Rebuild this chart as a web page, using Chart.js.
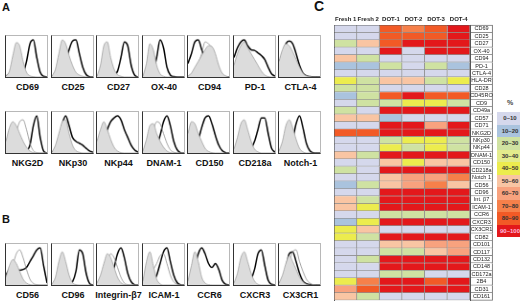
<!DOCTYPE html>
<html>
<head>
<meta charset="utf-8">
<script src="https://cdn.jsdelivr.net/npm/chart.js@4.4.1/dist/chart.umd.min.js"></script>
<style>
body { margin: 0; background: #fff; }
#fig { position: relative; width: 520px; height: 305px; overflow: hidden; font-family: "Liberation Sans", Arial, sans-serif; }
.box { position: absolute; }
.box canvas { border: 1px solid #b8b8b8; border-left-color: #333; border-bottom-color: #333; }
.lbl { position: absolute; width: 60px; font-weight: bold; font-size: 9px; text-align: center; color: #111; }
.letter { position: absolute; font-weight: bold; font-size: 11px; color: #111; }
.leg { position: absolute; left: 497px; width: 26px; height: 12.5px; line-height: 12.5px; font-size: 6px; font-weight: bold; text-align: center; color: #333; }
</style>
</head>
<body>
<div id="fig"></div>
<script>
// histogram panels (A and B)
var histLabels = ['CD69', 'CD25', 'CD27', 'OX-40', 'CD94', 'PD-1', 'CTLA-4',
  'NKG2D', 'NKp30', 'NKp44', 'DNAM-1', 'CD150', 'CD218a', 'Notch-1',
  'CD56', 'CD96', 'Integrin-β7', 'ICAM-1', 'CCR6', 'CXCR3', 'CX3CR1'];
var bins = ['0', '1', '2', '3', '4', '5', '6', '7', '8', '9', '10', '11', '12'];

// grey filled control histogram
var isoCurves = [
  [0.02, 0.15, 0.55, 0.88, 0.8, 0.4, 0.12, 0.03, 0.01, 0, 0, 0, 0],
  [0.02, 0.2, 0.6, 0.95, 0.85, 0.55, 0.3, 0.12, 0.05, 0.02, 0, 0, 0],
  [0.02, 0.3, 0.8, 0.9, 0.5, 0.2, 0.06, 0.02, 0, 0, 0, 0, 0],
  [0.02, 0.35, 0.85, 0.7, 0.3, 0.08, 0.02, 0, 0, 0, 0, 0, 0],
  [0.02, 0.1, 0.25, 0.4, 0.55, 0.7, 0.8, 0.78, 0.6, 0.3, 0.1, 0.03, 0],
  [0.3, 0.6, 0.8, 0.9, 0.75, 0.6, 0.45, 0.3, 0.15, 0.05, 0.01, 0, 0],
  [0.4, 0.7, 0.85, 0.8, 0.65, 0.45, 0.25, 0.1, 0.03, 0.01, 0, 0, 0],
  [0.3, 0.65, 0.8, 0.7, 0.5, 0.3, 0.15, 0.05, 0.01, 0, 0, 0, 0],
  [0.02, 0.2, 0.5, 0.8, 0.85, 0.5, 0.2, 0.06, 0.02, 0, 0, 0, 0],
  [0.3, 0.6, 0.8, 0.6, 0.35, 0.15, 0.05, 0.01, 0, 0, 0, 0, 0],
  [0.05, 0.35, 0.7, 0.75, 0.5, 0.3, 0.15, 0.05, 0.01, 0, 0, 0, 0],
  [0.5, 0.8, 0.75, 0.5, 0.3, 0.12, 0.04, 0.01, 0, 0, 0, 0, 0],
  [0.1, 0.4, 0.75, 0.85, 0.6, 0.3, 0.1, 0.03, 0, 0, 0, 0, 0],
  [0.05, 0.3, 0.7, 0.85, 0.65, 0.35, 0.12, 0.03, 0, 0, 0, 0, 0],
  [0.2, 0.5, 0.65, 0.55, 0.35, 0.15, 0.05, 0.01, 0, 0, 0, 0, 0],
  [0.02, 0.2, 0.6, 0.85, 0.6, 0.25, 0.06, 0.01, 0, 0, 0, 0, 0],
  [0.05, 0.25, 0.55, 0.8, 0.7, 0.45, 0.2, 0.06, 0.01, 0, 0, 0, 0],
  [0.1, 0.6, 0.85, 0.5, 0.15, 0.03, 0, 0, 0, 0, 0, 0, 0],
  [0.1, 0.5, 0.85, 0.6, 0.2, 0.05, 0.01, 0, 0, 0, 0, 0, 0],
  [0.05, 0.3, 0.7, 0.85, 0.6, 0.3, 0.1, 0.02, 0, 0, 0, 0, 0],
  [0.05, 0.25, 0.55, 0.75, 0.6, 0.4, 0.2, 0.08, 0.02, 0, 0, 0, 0]
];

// thin grey line (fresh cells), only where it differs from the control
var freshCurves = [
  null, null, null, null,
  [0.02, 0.08, 0.2, 0.35, 0.6, 0.9, 0.85, 0.75, 0.5, 0.25, 0.08, 0.02, 0],
  null, null,
  [0.02, 0.1, 0.3, 0.55, 0.8, 0.85, 0.6, 0.25, 0.06, 0.01, 0, 0, 0],
  null, null,
  [0.02, 0.15, 0.4, 0.6, 0.8, 0.75, 0.5, 0.25, 0.08, 0.02, 0, 0, 0],
  null, null, null,
  [0.05, 0.2, 0.5, 0.8, 0.9, 0.7, 0.4, 0.15, 0.04, 0.01, 0, 0, 0],
  null,
  [0.02, 0.15, 0.35, 0.6, 0.8, 0.7, 0.45, 0.2, 0.05, 0.01, 0, 0, 0],
  [0.02, 0.1, 0.25, 0.4, 0.55, 0.75, 0.8, 0.55, 0.25, 0.08, 0.02, 0, 0],
  null, null,
  [0.02, 0.1, 0.3, 0.6, 0.85, 0.9, 0.6, 0.35, 0.15, 0.05, 0.01, 0, 0]
];

// black line (DOT cells)
var dotCurves = [
  [0.02, 0.08, 0.14, 0.16, 0.1, 0.12, 0.4, 0.85, 0.95, 0.5, 0.12, 0.02, 0],
  [0.01, 0.03, 0.08, 0.2, 0.4, 0.7, 0.92, 0.95, 0.6, 0.25, 0.06, 0.01, 0],
  [0.01, 0.05, 0.1, 0.12, 0.08, 0.06, 0.15, 0.5, 0.9, 0.8, 0.3, 0.05, 0],
  [0, 0.02, 0.05, 0.15, 0.5, 0.95, 0.75, 0.25, 0.05, 0.01, 0, 0, 0],
  [0.35, 0.6, 0.9, 0.95, 0.7, 0.45, 0.2, 0.08, 0.03, 0.01, 0, 0, 0],
  [0.5, 0.75, 0.9, 0.95, 0.8, 0.7, 0.68, 0.62, 0.55, 0.45, 0.25, 0.08, 0.02],
  [0.35, 0.6, 0.85, 0.92, 0.85, 0.6, 0.3, 0.1, 0.03, 0.01, 0, 0, 0],
  [0, 0, 0, 0, 0.01, 0.02, 0.05, 0.2, 0.7, 0.95, 0.4, 0.05, 0],
  [0.02, 0.1, 0.35, 0.75, 0.95, 0.7, 0.4, 0.3, 0.25, 0.2, 0.12, 0.05, 0.02],
  [0.05, 0.15, 0.35, 0.6, 0.8, 0.9, 0.95, 0.85, 0.6, 0.4, 0.2, 0.08, 0.02],
  [0, 0.01, 0.03, 0.08, 0.2, 0.45, 0.8, 0.95, 0.7, 0.3, 0.08, 0.01, 0],
  [0.05, 0.1, 0.18, 0.35, 0.65, 0.9, 0.95, 0.75, 0.45, 0.2, 0.06, 0.01, 0],
  [0, 0, 0.01, 0.02, 0.05, 0.12, 0.3, 0.6, 0.9, 0.9, 0.5, 0.12, 0.02],
  [0, 0.01, 0.03, 0.1, 0.35, 0.75, 0.95, 0.65, 0.25, 0.06, 0.01, 0, 0],
  [0.25, 0.4, 0.42, 0.4, 0.38, 0.4, 0.45, 0.6, 0.75, 0.9, 0.95, 0.5, 0.05],
  [0, 0, 0, 0, 0.01, 0.02, 0.08, 0.35, 0.9, 0.8, 0.3, 0.04, 0],
  [0, 0.01, 0.03, 0.08, 0.2, 0.45, 0.8, 0.95, 0.7, 0.3, 0.08, 0.01, 0],
  [0, 0.01, 0.03, 0.08, 0.25, 0.55, 0.85, 0.95, 0.6, 0.25, 0.06, 0.01, 0],
  [0.05, 0.2, 0.45, 0.8, 0.95, 0.8, 0.55, 0.45, 0.55, 0.4, 0.12, 0.02, 0],
  [0, 0, 0.01, 0.02, 0.05, 0.15, 0.4, 0.8, 0.9, 0.5, 0.12, 0.02, 0],
  [0.03, 0.15, 0.45, 0.8, 0.85, 0.6, 0.3, 0.1, 0.03, 0.01, 0, 0, 0]
];

// heatmap (C)
var heatColumns = ['Fresh 1', 'Fresh 2', 'DOT-1', 'DOT-2', 'DOT-3', 'DOT-4'];
var markers = ['CD69', 'CD25', 'CD27', 'OX-40', 'CD94', 'PD-1', 'CTLA-4', 'HLA-DR', 'CD28', 'CD45RO',
  'CD9', 'CD49a', 'CD57', 'CD71', 'NKG2D', 'NKp30', 'NKp44', 'DNAM-1', 'CD150', 'CD218a',
  'Notch 1', 'CD56', 'CD96', 'Int. β7', 'ICAM-1', 'CCR6', 'CXCR3', 'CX3CR1', 'CD82', 'CD101',
  'CD117', 'CD132', 'CD148', 'CD172a', '2B4', 'CD31', 'CD161'];
var fresh1 = [5, 5, 25, 5, 55, 15, 5, 45, 25, 15, 5, 25, 55, 5, 85, 5, 5, 55, 5, 25, 5, 15, 5, 55, 55, 5, 15, 45, 45, 5, 5, 5, 5, 5, 45, 65, 55];
var fresh2 = [5, 5, 55, 5, 25, 15, 5, 25, 25, 25, 25, 5, 55, 5, 85, 5, 5, 25, 5, 5, 5, 25, 5, 25, 45, 5, 45, 55, 25, 5, 5, 25, 5, 5, 75, 85, 25];
var dot1 = [85, 85, 85, 95, 5, 25, 5, 55, 5, 85, 25, 95, 15, 95, 95, 25, 45, 95, 55, 95, 55, 55, 95, 95, 95, 25, 95, 5, 95, 55, 25, 95, 95, 25, 95, 95, 5];
var dot2 = [75, 85, 95, 5, 5, 5, 5, 55, 5, 95, 45, 95, 5, 95, 95, 45, 25, 95, 45, 95, 65, 65, 95, 95, 95, 25, 95, 5, 95, 55, 25, 95, 95, 25, 95, 95, 5];
var dot3 = [85, 85, 95, 95, 5, 25, 5, 25, 5, 85, 45, 95, 5, 65, 95, 45, 45, 95, 55, 95, 65, 75, 95, 95, 95, 25, 95, 5, 95, 65, 55, 95, 95, 5, 85, 95, 5];
var dot4 = [95, 95, 95, 95, 5, 15, 5, 45, 5, 85, 25, 95, 5, 95, 95, 25, 25, 95, 55, 95, 75, 55, 95, 95, 95, 25, 95, 5, 95, 65, 65, 95, 95, 5, 95, 95, 5];
var rangeLabels = ['0–10', '10–20', '20–30', '30–40', '40–50', '50–60', '60–70', '70–80', '80–90', '90–100'];
var palette = ['#d5d8ec', '#aac3de', '#cfe2a2', '#e3ec8c', '#ecec4e', '#f9c5a3', '#f8a27e', '#f6804a', '#f25a26', '#e3181b'];

var fig = document.getElementById('fig');

function addDiv(cls, text, left, top, extra) {
  var d = document.createElement('div');
  d.className = cls;
  d.textContent = text;
  d.style.left = left + 'px';
  d.style.top = top + 'px';
  if (extra) Object.assign(d.style, extra);
  fig.appendChild(d);
  return d;
}

addDiv('letter', 'A', 2, 1);
addDiv('letter', 'B', 2, 213);
addDiv('letter', 'C', 314, -2, { fontSize: '14px' });

var rowTops = [35, 111, 243];
histLabels.forEach(function (name, i) {
  var row = Math.floor(i / 7), col = i % 7;
  var left = 5 + col * 45.5, top = rowTops[row];
  var wrap = document.createElement('div');
  wrap.className = 'box';
  wrap.style.left = left + 'px';
  wrap.style.top = top + 'px';
  var cv = document.createElement('canvas');
  cv.width = 43;
  cv.height = 43;
  wrap.appendChild(cv);
  fig.appendChild(wrap);
  addDiv('lbl', name, left + 22.5 - 30, top + 47);

  var sets = [{
    data: isoCurves[i], fill: 'origin', backgroundColor: '#dcdcdc',
    borderColor: '#a0a0a0', borderWidth: 0.8
  }];
  if (freshCurves[i]) {
    sets.push({ data: freshCurves[i], fill: false, borderColor: '#8c8c8c', borderWidth: 0.8 });
  }
  sets.push({ data: dotCurves[i], fill: false, borderColor: '#000', borderWidth: 1.5 });

  new Chart(cv, {
    type: 'line',
    data: { labels: bins, datasets: sets },
    options: {
      responsive: false,
      animation: false,
      elements: { point: { radius: 0 }, line: { tension: 0.4, cubicInterpolationMode: 'monotone' } },
      layout: { padding: 0 },
      plugins: { legend: { display: false }, tooltip: { enabled: false } },
      scales: {
        x: { display: false },
        y: { display: false, min: 0, max: 1.05 }
      }
    }
  });
});

// heatmap as stacked horizontal bars, one dataset per column
var heatValues = [fresh1, fresh2, dot1, dot2, dot3, dot4];
var tmp = document.createElement('canvas').getContext('2d');
tmp.font = '5.5px "Liberation Sans", Arial, sans-serif';
var widest = Math.max.apply(null, markers.map(function (m) { return tmp.measureText(m).width; }));
var markerCol = 23;

var hc = document.createElement('canvas');
hc.width = 160;
hc.height = 304;
hc.style.position = 'absolute';
hc.style.left = '333px';
hc.style.top = '0px';
fig.appendChild(hc);

var heatSets = heatValues.map(function (vals, c) {
  return {
    label: heatColumns[c],
    data: vals.map(function () { return 1; }),
    backgroundColor: vals.map(function (v) { return palette[Math.min(9, Math.floor(v / 10))]; }),
    borderColor: '#8e8e8e',
    borderWidth: { top: 0, left: 0, right: 1, bottom: 1 },
    borderSkipped: false,
    barPercentage: 1,
    categoryPercentage: 1
  };
});
// boxed marker-name column, it lies under the y axis labels
heatSets.push({
  label: 'marker',
  data: markers.map(function () { return 1; }),
  backgroundColor: '#fff',
  borderColor: '#777',
  borderWidth: function (c) { return c.dataIndex === 0 ? { top: 1, right: 1, bottom: 1 } : { top: 0, right: 1, bottom: 1 }; },
  borderSkipped: false,
  barPercentage: 1,
  categoryPercentage: 1,
  clip: false
});

new Chart(hc, {
  type: 'bar',
  data: { labels: markers, datasets: heatSets },
  options: {
    indexAxis: 'y',
    responsive: false,
    animation: false,
    layout: { padding: { top: 14, right: 0, bottom: 1, left: 0 } },
    plugins: { legend: { display: false }, tooltip: { enabled: false } },
    scales: {
      x: {
        type: 'linear', position: 'top', stacked: true, min: 0, max: 6,
        afterBuildTicks: function (s) { s.ticks = heatColumns.map(function (c, i) { return { value: i + 0.5 }; }); },
        ticks: {
          autoSkip: false, maxRotation: 0, padding: 2, color: '#222',
          font: { size: 6, weight: 'bold', family: '"Liberation Sans", Arial, sans-serif' },
          callback: function (v, i) { return heatColumns[i]; }
        },
        grid: { display: false, drawTicks: false },
        border: { display: true, color: '#555' }
      },
      y: {
        position: 'right', stacked: true,
        grid: { display: false, drawTicks: false },
        border: { color: '#555', z: 1 },
        ticks: {
          z: 1, autoSkip: false, crossAlign: 'center', padding: (markerCol - widest) / 2, color: '#222',
          font: { size: 5.5, family: '"Liberation Sans", Arial, sans-serif' }
        }
      },
      yl: {
        type: 'category', position: 'left', labels: markers,
        ticks: { display: false }, grid: { display: false, drawTicks: false },
        border: { display: true, color: '#555' }
      }
    }
  }
});

// colour key
addDiv('leg', '%', 497, 98, { fontSize: '7px', height: '10px', lineHeight: '10px', color: '#444' });
rangeLabels.forEach(function (t, i) {
  addDiv('leg', t, 497, 112 + i * 12.5, { background: palette[i], color: i === 9 ? '#fbd' : '#333' });
});
</script>
</body>
</html>
